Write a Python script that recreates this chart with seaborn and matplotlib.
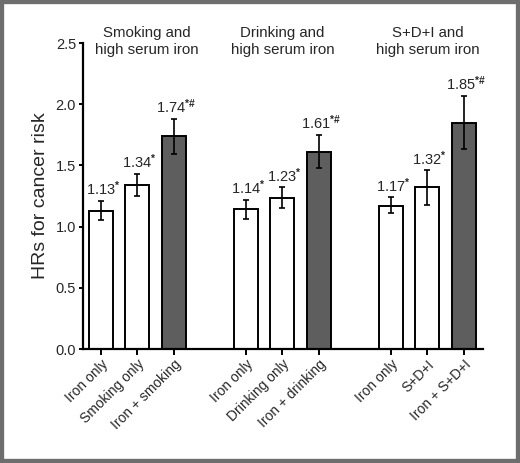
import numpy as np
import pandas as pd
import matplotlib
matplotlib.use("Agg")
import matplotlib.pyplot as plt
import seaborn as sns
from matplotlib.patches import Rectangle

# ---- data ----
group_titles = ["Smoking and\nhigh serum iron", "Drinking and\nhigh serum iron", "S+D+I and\nhigh serum iron"]
bar_labels = ["Iron only", "Smoking only", "Iron + smoking",
              "Iron only", "Drinking only", "Iron + drinking",
              "Iron only", "S+D+I", "Iron + S+D+I"]
hr = [1.13, 1.34, 1.74, 1.14, 1.23, 1.61, 1.17, 1.32, 1.85]
ci_lo = [1.05, 1.25, 1.59, 1.06, 1.15, 1.48, 1.11, 1.18, 1.63]
ci_hi = [1.21, 1.43, 1.88, 1.22, 1.32, 1.75, 1.24, 1.46, 2.07]
sig = ["*", "*", "*#", "*", "*", "*#", "*", "*", "*#"]
kind = ["single", "single", "combined", "single", "single", "combined", "single", "single", "combined"]
yticks = [0.0, 0.5, 1.0, 1.5, 2.0, 2.5]

sns.set_style("ticks")
plt.rcParams['font.family'] = ['Liberation Sans', 'DejaVu Sans']
plt.rcParams['mathtext.fontset'] = 'custom'
plt.rcParams['mathtext.rm'] = 'Liberation Sans'
plt.rcParams['mathtext.it'] = 'Liberation Sans'
plt.rcParams['mathtext.bf'] = 'Liberation Sans:bold'

pos = [g * 4 + i for g in range(3) for i in range(3)]
df = pd.DataFrame({"pos": pos, "hr": hr, "kind": kind})

fig = plt.figure(figsize=(5.2, 4.63), dpi=100)
ax = fig.add_axes([0.1596, 0.2462, 0.928 - 0.1596, 0.9071 - 0.2462])

sns.barplot(data=df, x="pos", y="hr", hue="kind", native_scale=True,
            palette={"single": "white", "combined": "#5e5e5e"},
            edgecolor="black", linewidth=1.4, width=0.66, legend=False,
            errorbar=None, ax=ax)

yerr = [np.array(hr) - np.array(ci_lo), np.array(ci_hi) - np.array(hr)]
ax.errorbar(pos, hr, yerr=yerr, fmt="none", ecolor="black", elinewidth=1.2,
            capsize=2.5, capthick=1.2, zorder=5)

for p, v, h, s in zip(pos, hr, ci_hi, sig):
    sup = s.replace("#", r"\#")
    ax.annotate(f"{v:.2f}" + r"$^{\mathbf{" + sup + "}}$", (p, h), xytext=(1.5, 4),
                textcoords="offset points", ha="center", va="baseline", fontsize=10.5)

for g, t in enumerate(group_titles):
    cx = g * 4 + 1 + (0.25 if g == 0 else 0)
    ax.text(cx, 2.635, t, ha="center", va="top", fontsize=10.8, linespacing=1.2,
            transform=ax.transData, clip_on=False)

ax.set_xlim(-0.5, 10.52)
ax.set_ylim(0, 2.5)
ax.set_yticks(yticks)
ax.set_yticklabels([f"{t:.1f}" for t in yticks], fontsize=10.5)
ax.set_xticks(pos)
ax.set_xticklabels(bar_labels, rotation=45, ha="right", rotation_mode="anchor", fontsize=10)
ax.set_xlabel("")
ax.set_ylabel("HRs for cancer risk", fontsize=14, labelpad=5)
sns.despine(ax=ax)
for sp in ["left", "bottom"]:
    ax.spines[sp].set_linewidth(1.6)
    ax.spines[sp].set_color("black")
ax.tick_params(axis="both", direction="out", width=1.4, color="black", length=4, pad=2)
ax.tick_params(axis="y", length=3)

fig.patches.append(Rectangle((0, 0), 1, 1, transform=fig.transFigure, fill=False,
                             edgecolor="#6e6e6e", linewidth=6, zorder=10))

fig.savefig("out.png", dpi=100)
